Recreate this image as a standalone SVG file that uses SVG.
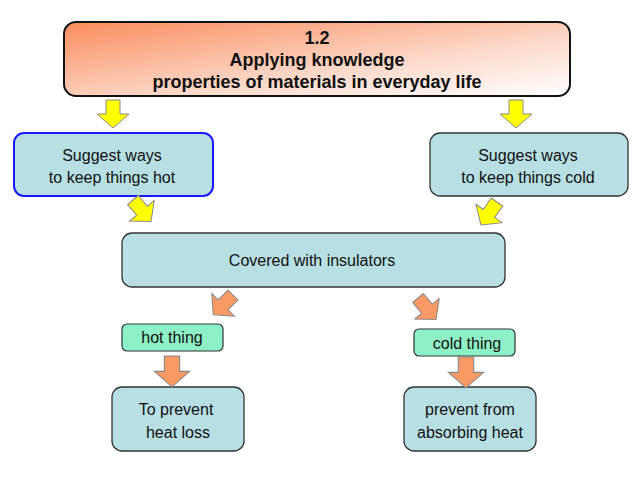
<svg xmlns="http://www.w3.org/2000/svg" width="638" height="478" viewBox="0 0 638 478">
<defs>
<linearGradient id="g" x1="0" y1="0" x2="1" y2="1">
<stop offset="0" stop-color="#f98c5c"/><stop offset="0.6" stop-color="#fcd9c9"/><stop offset="1" stop-color="#ffffff"/>
</linearGradient>
<path id="arr" d="M-7,0 H7 V14 H16 L0,28 L-16,14 H-7 Z"/>
</defs>
<style>
.t{font-family:"Liberation Sans",Arial,sans-serif;font-size:16px;fill:#111;text-anchor:middle}
.b{font-weight:bold;font-size:18px}
.box{fill:#b8dfe3;stroke:#333;stroke-width:1.3}
.grn{fill:#8ef0c6;stroke:#333;stroke-width:1.2}
.y{fill:#ffff00;stroke:#888;stroke-width:1}
.o{fill:#f99a66;stroke:#888;stroke-width:1}
</style>
<rect width="638" height="478" fill="#fff"/>
<g id="title"><rect x="64" y="22" width="506" height="74" rx="12" fill="url(#g)" stroke="#111" stroke-width="2"/>
<text class="t b" x="317" y="44">1.2</text><text class="t b" x="317" y="66">Applying knowledge</text><text class="t b" x="317" y="88">properties of materials in everyday life</text></g>
<g id="hot"><rect x="14" y="133" width="199" height="63" rx="10" class="box" stroke="#1a1aff" style="stroke:#1a1aff;stroke-width:2"/>
<text class="t" x="112" y="161">Suggest ways</text><text class="t" x="112" y="183">to keep things hot</text></g>
<g id="cold"><rect x="430" y="133" width="198" height="63" rx="10" class="box"/>
<text class="t" x="528" y="161">Suggest ways</text><text class="t" x="528" y="183">to keep things cold</text></g>
<g id="ins"><rect x="122" y="233" width="383" height="54" rx="10" class="box"/>
<text class="t" x="312" y="266">Covered with insulators</text></g>
<g id="hotthing"><rect x="122" y="324" width="101" height="27" rx="5" class="grn"/><text class="t" x="172" y="343">hot thing</text></g>
<g id="coldthing"><rect x="414" y="329" width="101" height="27" rx="5" class="grn"/><text class="t" x="467" y="349">cold thing</text></g>
<g id="loss"><rect x="112" y="387" width="132" height="64" rx="10" class="box"/>
<text class="t" x="176" y="415">To prevent</text><text class="t" x="178" y="438">heat loss</text></g>
<g id="absorb"><rect x="404" y="387" width="132" height="64" rx="10" class="box"/>
<text class="t" x="470" y="415">prevent from</text><text class="t" x="470" y="438">absorbing heat</text></g>
<g id="connectors">
<use href="#arr" class="y" transform="translate(113,100)"/>
<use href="#arr" class="y" transform="translate(516,100)"/>
<use href="#arr" class="y" transform="translate(133,200) rotate(-40)"/>
<use href="#arr" class="y" transform="translate(497,202) rotate(35)"/>
<use href="#arr" class="o" transform="translate(233,295) rotate(45)"/>
<use href="#arr" class="o" transform="translate(418,298) rotate(-40)"/>
<use href="#arr" class="o" transform="translate(172,356) scale(1.1,1.1)"/>
<use href="#arr" class="o" transform="translate(466,357) scale(1.1,1.1)"/>
</g>
</svg>
